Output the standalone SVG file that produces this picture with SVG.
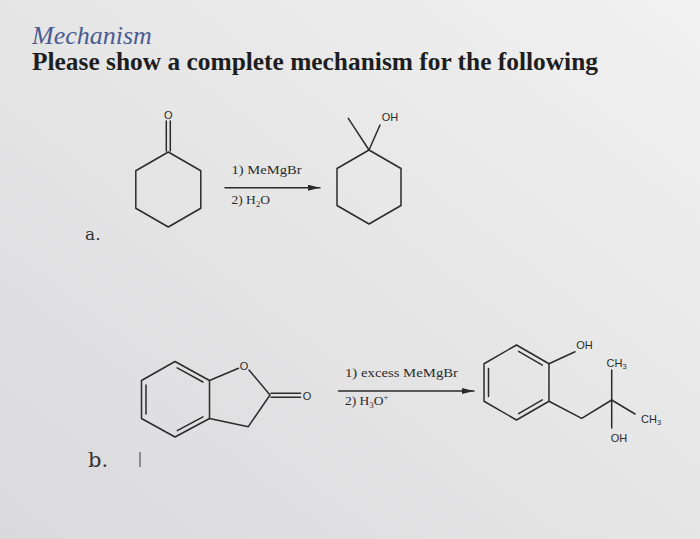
<svg xmlns="http://www.w3.org/2000/svg" width="700" height="539" viewBox="0 0 700 539">
<defs>
<linearGradient id="bg" x1="1" y1="0" x2="0" y2="1">
<stop offset="0" stop-color="#f1f1f1"/>
<stop offset="1" stop-color="#dadadc"/>
</linearGradient>
<marker id="ah" viewBox="0 0 12 6" refX="12" refY="3" markerWidth="12" markerHeight="6" markerUnits="userSpaceOnUse" orient="auto">
<path d="M0,0 L12,3 L0,6 Z" fill="#2b2b2b"/>
</marker>
<style>
.b{stroke:#2b2b2b;stroke-width:1.5;fill:none;stroke-linecap:round;stroke-linejoin:round}
.lbl{font-family:"Liberation Sans",Arial,sans-serif;font-size:11px;fill:#2b2b2b}
.rg{font-family:"Liberation Serif","Times New Roman",serif;font-size:13.5px;fill:#2b2b2b}
.item{font-family:"DejaVu Serif",serif;fill:#333}
</style>
</defs>
<rect width="700" height="539" fill="url(#bg)"/>

<text x="32" y="44" font-family="Liberation Serif, serif" font-style="italic" font-size="26" fill="#4a5c92">Mechanism</text>
<text x="32" y="70" font-family="Liberation Serif, serif" font-weight="bold" font-size="25" fill="#1e1e1e" textLength="566" lengthAdjust="spacingAndGlyphs">Please show a complete mechanism for the following</text>

<text class="item" x="85" y="240" font-size="17">a.</text>
<text class="item" x="88" y="467" font-size="21">b.</text>
<line x1="140" y1="452" x2="140" y2="467" stroke="#555" stroke-width="1.2"/>

<g id="cyclohexanone">
<polygon class="b" points="168.3,152 200.8,170.75 200.8,208.25 168.3,227 135.8,208.25 135.8,170.75"/>
<line class="b" x1="166.3" y1="151" x2="166.3" y2="121"/>
<line class="b" x1="170.3" y1="151" x2="170.3" y2="121"/>
<text class="lbl" x="168.3" y="119" text-anchor="middle">O</text>
</g>

<g id="reagents-a">
<text class="rg" x="231.5" y="174" textLength="70" lengthAdjust="spacingAndGlyphs">1) MeMgBr</text>
<text class="rg" x="231.5" y="203.5">2) H<tspan font-size="8.5" dy="3">2</tspan><tspan dy="-3">O</tspan></text>
</g>

<g id="product-a">
<polygon class="b" points="369,150 401,168.5 401,205.5 369,224 337,205.5 337,168.5"/>
<line class="b" x1="369" y1="150" x2="348.3" y2="118.3"/>
<line class="b" x1="369" y1="150" x2="380" y2="125"/>
<text class="lbl" x="390" y="121" text-anchor="middle">OH</text>
</g>

<g id="benzofuranone">
<polygon class="b" points="175,361.5 209.5,380.5 209.5,418.5 175,437 141.5,418.5 141.5,380.5"/>
<line class="b" x1="146" y1="385" x2="146" y2="414"/>
<line class="b" x1="177.2" y1="367.85" x2="202.95" y2="382.03"/>
<line class="b" x1="202.96" y1="416.9" x2="177.28" y2="430.66"/>
<polyline class="b" points="209.5,380.5 238.5,368.3"/>
<polyline class="b" points="249,370 270,395 248.3,426.7 209.5,418.5"/>
<text class="lbl" x="244" y="369.5" text-anchor="middle">O</text>
<line class="b" x1="271" y1="393.2" x2="300.5" y2="393.2"/>
<line class="b" x1="271" y1="397.2" x2="300.5" y2="397.2"/>
<text class="lbl" x="307" y="399.5" text-anchor="middle">O</text>
</g>

<g id="reagents-b">
<text class="rg" x="345" y="376.7" textLength="113" lengthAdjust="spacingAndGlyphs">1) excess MeMgBr</text>
<text class="rg" x="345" y="405">2) H<tspan font-size="8.5" dy="3">3</tspan><tspan dy="-3">O</tspan><tspan font-size="8.5" dy="-5">+</tspan></text>
</g>

<g id="product-b">
<polygon class="b" points="516.5,345 548.98,363.75 548.98,401.25 516.5,420 484.02,401.25 484.02,363.75"/>
<line class="b" x1="488.5" y1="368.5" x2="488.5" y2="396.5"/>
<line class="b" x1="518.58" y1="351.4" x2="542.4" y2="365.15"/>
<line class="b" x1="542.4" y1="399.85" x2="518.58" y2="413.6"/>
<line class="b" x1="548.98" y1="363.75" x2="575" y2="351.7"/>
<text class="lbl" x="584.5" y="349" text-anchor="middle">OH</text>
<polyline class="b" points="548.98,401.25 581.7,418.3 611.7,400"/>
<line class="b" x1="611.7" y1="400" x2="611.7" y2="370"/>
<line class="b" x1="611.7" y1="400" x2="635" y2="414"/>
<line class="b" x1="611.7" y1="400" x2="611.7" y2="428"/>
<text class="lbl" x="606.5" y="366.5">CH<tspan font-size="7.5" dy="2">3</tspan></text>
<text class="lbl" x="641" y="423">CH<tspan font-size="7.5" dy="2">3</tspan></text>
<text class="lbl" x="619" y="442" text-anchor="middle">OH</text>
</g>

<g id="connectors">
<line class="b" x1="225" y1="187.7" x2="320" y2="187.7" marker-end="url(#ah)"/>
<line class="b" x1="338.5" y1="391" x2="474" y2="391" marker-end="url(#ah)"/>
</g>
</svg>
